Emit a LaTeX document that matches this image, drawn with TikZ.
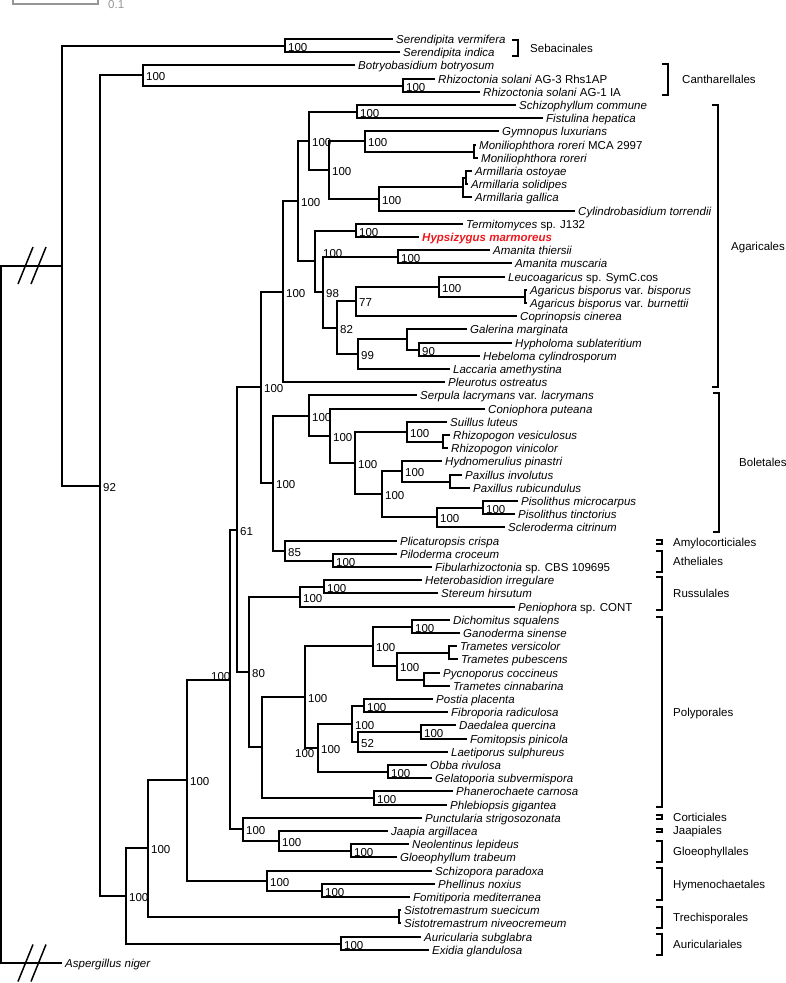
\documentclass[tikz,border=0pt]{standalone}
\usepackage{fontspec}
\setmainfont{Liberation Sans}
\usetikzlibrary{calc}
\definecolor{hyred}{RGB}{235,25,30}
\definecolor{sbgray}{RGB}{150,150,150}
\tikzset{
  br/.style={line width=2pt},
  brk/.style={line width=1.6pt},
  slash/.style={line width=1.5pt},
  taxon/.style={anchor=base west, inner sep=0pt, xshift=3pt, yshift=-4.2pt, font=\fontsize{11.5}{13}\selectfont\itshape},
  bs/.style={anchor=base west, inner sep=0pt, xshift=3pt, yshift=-5.5pt, font=\fontsize{11.5}{13}\selectfont},
  grp/.style={anchor=base west, inner sep=0pt, yshift=-4.1pt, font=\fontsize{11.5}{13}\selectfont},
}
\newcommand\lf[4]{\coordinate (#1) at (#2,{round(39+13.2*(#3-1))}); \node[taxon] (#1-l) at (#1) {#4};}
\newcommand\tn[4]{%
  \path let \p1=($(#3)!0.5!(#4)$) in coordinate (#1) at (#2pt,\y1);
  \draw[br] (#3) -| (#1) |- (#4);}
\newcommand\bsv[2]{\node[bs] (#1-b) at (#1) {#2};}
\newcommand\grp[6]{%
  \coordinate (#1-t) at (#2,#3); \coordinate (#1-u) at (#2,#4);
  \draw[brk] ($(#1-t)+(-6,0)$) -- (#1-t) -- (#1-u) -- ($(#1-u)+(-6,0)$);
  \node[grp] (#1) at (#6,{(#3+#4)/2}) {#5};}
\begin{document}
\begin{tikzpicture}[x=1pt,y=-1pt]
\useasboundingbox (0,0) rectangle (785,983);
% scale bar
\coordinate (sbA) at (13,4); \coordinate (sbB) at (98,4);
\draw[sbgray, line width=1.2pt] (13,0) -- (sbA) -- (sbB) -- (98,0);
\node[sbgray, anchor=base west, inner sep=0pt, font=\fontsize{11.5}{13}\selectfont] (sbt) at (108,8.5) {0.1};
% leaves
\lf{t1}{393}{1}{Serendipita vermifera}
\lf{t2}{400}{2}{Serendipita indica}
\lf{t3}{355}{3}{Botryobasidium botryosum}
\lf{t4}{435}{4}{Rhizoctonia solani \textup{AG-3 Rhs1AP}}
\lf{t5}{480}{5}{Rhizoctonia solani \textup{AG-1 IA}}
\lf{t6}{516}{6}{Schizophyllum commune}
\lf{t7}{543}{7}{Fistulina hepatica}
\lf{t8}{499}{8}{Gymnopus luxurians}
\lf{t9}{476}{9}{Moniliophthora roreri \textup{MCA 2997}}
\lf{t10}{478}{10}{Moniliophthora roreri}
\lf{t11}{472}{11}{Armillaria ostoyae}
\lf{t12}{468}{12}{Armillaria solidipes}
\lf{t13}{472}{13}{Armillaria gallica}
\lf{t14}{575}{14}{Cylindrobasidium torrendii}
\lf{t15}{463}{15}{Termitomyces \textup{sp. J132}}
\lf{t16}{419}{16}{\bfseries\color{hyred}Hypsizygus marmoreus}
\lf{t17}{490}{17}{Amanita thiersii}
\lf{t18}{512}{18}{Amanita muscaria}
\lf{t19}{505}{19}{Leucoagaricus \textup{sp. SymC.cos}}
\lf{t20}{527}{20}{Agaricus bisporus \textup{var.} bisporus}
\lf{t21}{527}{21}{Agaricus bisporus \textup{var.} burnettii}
\lf{t22}{517}{22}{Coprinopsis cinerea}
\lf{t23}{467}{23}{Galerina marginata}
\lf{t24}{512}{24}{Hypholoma sublateritium}
\lf{t25}{480}{25}{Hebeloma cylindrosporum}
\lf{t26}{450}{26}{Laccaria amethystina}
\lf{t27}{445}{27}{Pleurotus ostreatus}
\lf{t28}{417}{28}{Serpula lacrymans \textup{var.} lacrymans}
\lf{t29}{485}{29}{Coniophora puteana}
\lf{t30}{447}{30}{Suillus luteus}
\lf{t31}{450}{31}{Rhizopogon vesiculosus}
\lf{t32}{448}{32}{Rhizopogon vinicolor}
\lf{t33}{442}{33}{Hydnomerulius pinastri}
\lf{t34}{462}{34}{Paxillus involutus}
\lf{t35}{470}{35}{Paxillus rubicundulus}
\lf{t36}{518}{36}{Pisolithus microcarpus}
\lf{t37}{515}{37}{Pisolithus tinctorius}
\lf{t38}{505}{38}{Scleroderma citrinum}
\lf{t39}{397}{39}{Plicaturopsis crispa}
\lf{t40}{397}{40}{Piloderma croceum}
\lf{t41}{432}{41}{Fibularhizoctonia \textup{sp. CBS 109695}}
\lf{t42}{422}{42}{Heterobasidion irregulare}
\lf{t43}{438}{43}{Stereum hirsutum}
\lf{t44}{515}{44}{Peniophora \textup{sp. CONT}}
\lf{t45}{450}{45}{Dichomitus squalens}
\lf{t46}{460}{46}{Ganoderma sinense}
\lf{t47}{457}{47}{Trametes versicolor}
\lf{t48}{458}{48}{Trametes pubescens}
\lf{t49}{440}{49}{Pycnoporus coccineus}
\lf{t50}{450}{50}{Trametes cinnabarina}
\lf{t51}{433}{51}{Postia placenta}
\lf{t52}{448}{52}{Fibroporia radiculosa}
\lf{t53}{456}{53}{Daedalea quercina}
\lf{t54}{467}{54}{Fomitopsis pinicola}
\lf{t55}{448}{55}{Laetiporus sulphureus}
\lf{t56}{427}{56}{Obba rivulosa}
\lf{t57}{432}{57}{Gelatoporia subvermispora}
\lf{t58}{453}{58}{Phanerochaete carnosa}
\lf{t59}{447}{59}{Phlebiopsis gigantea}
\lf{t60}{422}{60}{Punctularia strigosozonata}
\lf{t61}{388}{61}{Jaapia argillacea}
\lf{t62}{409}{62}{Neolentinus lepideus}
\lf{t63}{397}{63}{Gloeophyllum trabeum}
\lf{t64}{432}{64}{Schizopora paradoxa}
\lf{t65}{435}{65}{Phellinus noxius}
\lf{t66}{410}{66}{Fomitiporia mediterranea}
\lf{t67}{401}{67}{Sistotremastrum suecicum}
\lf{t68}{401}{68}{Sistotremastrum niveocremeum}
\lf{t69}{421}{69}{Auricularia subglabra}
\lf{t70}{429}{70}{Exidia glandulosa}
\lf{t71}{62}{71}{Aspergillus niger}
% internal nodes
\tn{seb}{285}{t1}{t2}
\tn{rhz}{403}{t4}{t5}
\tn{can}{143}{t3}{rhz}
\tn{sch}{357}{t6}{t7}
\tn{mon}{474}{t9}{t10}
\tn{gym}{365}{t8}{mon}
\tn{aos}{466}{t11}{t12}
\tn{arm}{463}{aos}{t13}
\tn{cyl}{379}{arm}{t14}
\tn{nA}{329}{gym}{cyl}
\tn{nB}{309}{sch}{nA}
\tn{ter}{356}{t15}{t16}
\tn{ama}{398}{t17}{t18}
\tn{agb}{525}{t20}{t21}
\tn{leu}{439}{t19}{agb}
\tn{c77}{356}{leu}{t22}
\tn{heb}{419}{t24}{t25}
\tn{gal}{407}{t23}{heb}
\tn{c99}{358}{gal}{t26}
\tn{c82}{337}{c77}{c99}
\tn{c98}{323}{ama}{c82}
\tn{nC}{315}{ter}{c98}
\tn{nD}{298}{nB}{nC}
\tn{agr}{283}{nD}{t27}
\tn{rhp}{443}{t31}{t32}
\tn{sui}{407}{t30}{rhp}
\tn{pax}{450}{t34}{t35}
\tn{hyd}{402}{t33}{pax}
\tn{pis}{483}{t36}{t37}
\tn{scl}{437}{pis}{t38}
\tn{nE}{382}{hyd}{scl}
\tn{nF}{355}{sui}{nE}
\tn{nG}{330}{t29}{nF}
\tn{bol}{309}{t28}{nG}
\tn{pil}{333}{t40}{t41}
\tn{amy}{285}{t39}{pil}
\tn{nH}{273}{bol}{amy}
\tn{nI}{261}{agr}{nH}
\tn{het}{324}{t42}{t43}
\tn{rus}{300}{het}{t44}
\tn{dic}{412}{t45}{t46}
\tn{trv}{449}{t47}{t48}
\tn{pyc}{424}{t49}{t50}
\tn{nJ}{397}{trv}{pyc}
\tn{nK}{373}{dic}{nJ}
\tn{pos}{364}{t51}{t52}
\tn{dae}{421}{t53}{t54}
\tn{c52}{358}{dae}{t55}
\tn{nL}{352}{pos}{c52}
\tn{obb}{388}{t56}{t57}
\tn{nM}{318}{nL}{obb}
\tn{nN}{305}{nK}{nM}
\tn{pha}{374}{t58}{t59}
\tn{pol}{262}{nN}{pha}
\tn{c80}{249}{rus}{pol}
\tn{c61}{237}{nI}{c80}
\tn{glo}{351}{t62}{t63}
\tn{jaa}{279}{t61}{glo}
\tn{pun}{243}{t60}{jaa}
\tn{nO}{230}{c61}{pun}
\tn{phe}{322}{t65}{t66}
\tn{hym}{267}{t64}{phe}
\tn{nP}{187}{nO}{hym}
\tn{sis}{399}{t67}{t68}
\tn{nQ}{148}{nP}{sis}
\tn{aur}{341}{t69}{t70}
\tn{nR}{126}{nQ}{aur}
\tn{c92}{100}{can}{nR}
\tn{nS}{62}{seb}{c92}
\tn{root}{1}{nS}{t71}
% break marks
\draw[slash] ($(root|-nS)+(17,18.5)$) -- ++(15,-37);
\draw[slash] ($(root|-nS)+(30,18.5)$) -- ++(15,-37);
\draw[slash] ($(root|-t71)+(17,18.5)$) -- ++(15,-37);
\draw[slash] ($(root|-t71)+(30,18.5)$) -- ++(15,-37);
% support values
\bsv{seb}{100} \bsv{rhz}{100} \bsv{can}{100} \bsv{sch}{100}
\bsv{gym}{100} \bsv{cyl}{100} \bsv{nA}{100} \bsv{nB}{100}
\bsv{ter}{100} \bsv{ama}{100} \bsv{leu}{100} \bsv{c77}{77}
\bsv{heb}{90} \bsv{c99}{99} \bsv{c82}{82} \bsv{c98}{98}
\node[bs, xshift=0pt, yshift=0pt] (nC-b) at (320,251.5) {100};
\bsv{nD}{100} \bsv{agr}{100}
\bsv{sui}{100} \bsv{hyd}{100} \bsv{pis}{100} \bsv{scl}{100}
\bsv{nE}{100} \bsv{nF}{100} \bsv{nG}{100} \bsv{bol}{100}
\bsv{pil}{100} \bsv{amy}{85} \bsv{nH}{100} \bsv{nI}{100}
\bsv{het}{100} \bsv{rus}{100} \bsv{dic}{100} \bsv{nJ}{100}
\bsv{nK}{100} \bsv{pos}{100} \bsv{dae}{100} \bsv{c52}{52}
\bsv{nL}{100} \bsv{obb}{100} \bsv{nM}{100} \bsv{nN}{100}
\node[bs, xshift=0pt, yshift=0pt] (pol-b) at (292,752) {100};
\bsv{pha}{100} \bsv{c80}{80} \bsv{c61}{61}
\bsv{glo}{100} \bsv{jaa}{100} \bsv{pun}{100}
\node[bs, xshift=0pt, yshift=0pt] (nO-b) at (208,675) {100};
\bsv{phe}{100} \bsv{hym}{100} \bsv{nP}{100} \bsv{nQ}{100}
\bsv{aur}{100} \bsv{nR}{100} \bsv{c92}{92}
% order brackets
\grp{gSeb}{518}{40}{56}{Sebacinales}{530}
\grp{gCan}{668}{64}{95}{Cantharellales}{682}
\grp{gAga}{718}{105}{387}{Agaricales}{731}
\grp{gBol}{719}{393}{532}{Boletales}{739}
\grp{gAmy}{662}{540}{544}{Amylocorticiales}{673}
\grp{gAth}{662}{551}{572}{Atheliales}{673}
\grp{gRus}{662}{577}{610}{Russulales}{673}
\grp{gPol}{662}{617}{807}{Polyporales}{673}
\grp{gCor}{662}{815}{819}{Corticiales}{673}
\grp{gJaa}{662}{829}{832}{Jaapiales}{673}
\grp{gGlo}{662}{841}{862}{Gloeophyllales}{673}
\grp{gHym}{662}{868}{900}{Hymenochaetales}{673}
\grp{gTre}{662}{907}{928}{Trechisporales}{673}
\grp{gAur}{662}{934}{955}{Auriculariales}{673}
\end{tikzpicture}
\end{document}
